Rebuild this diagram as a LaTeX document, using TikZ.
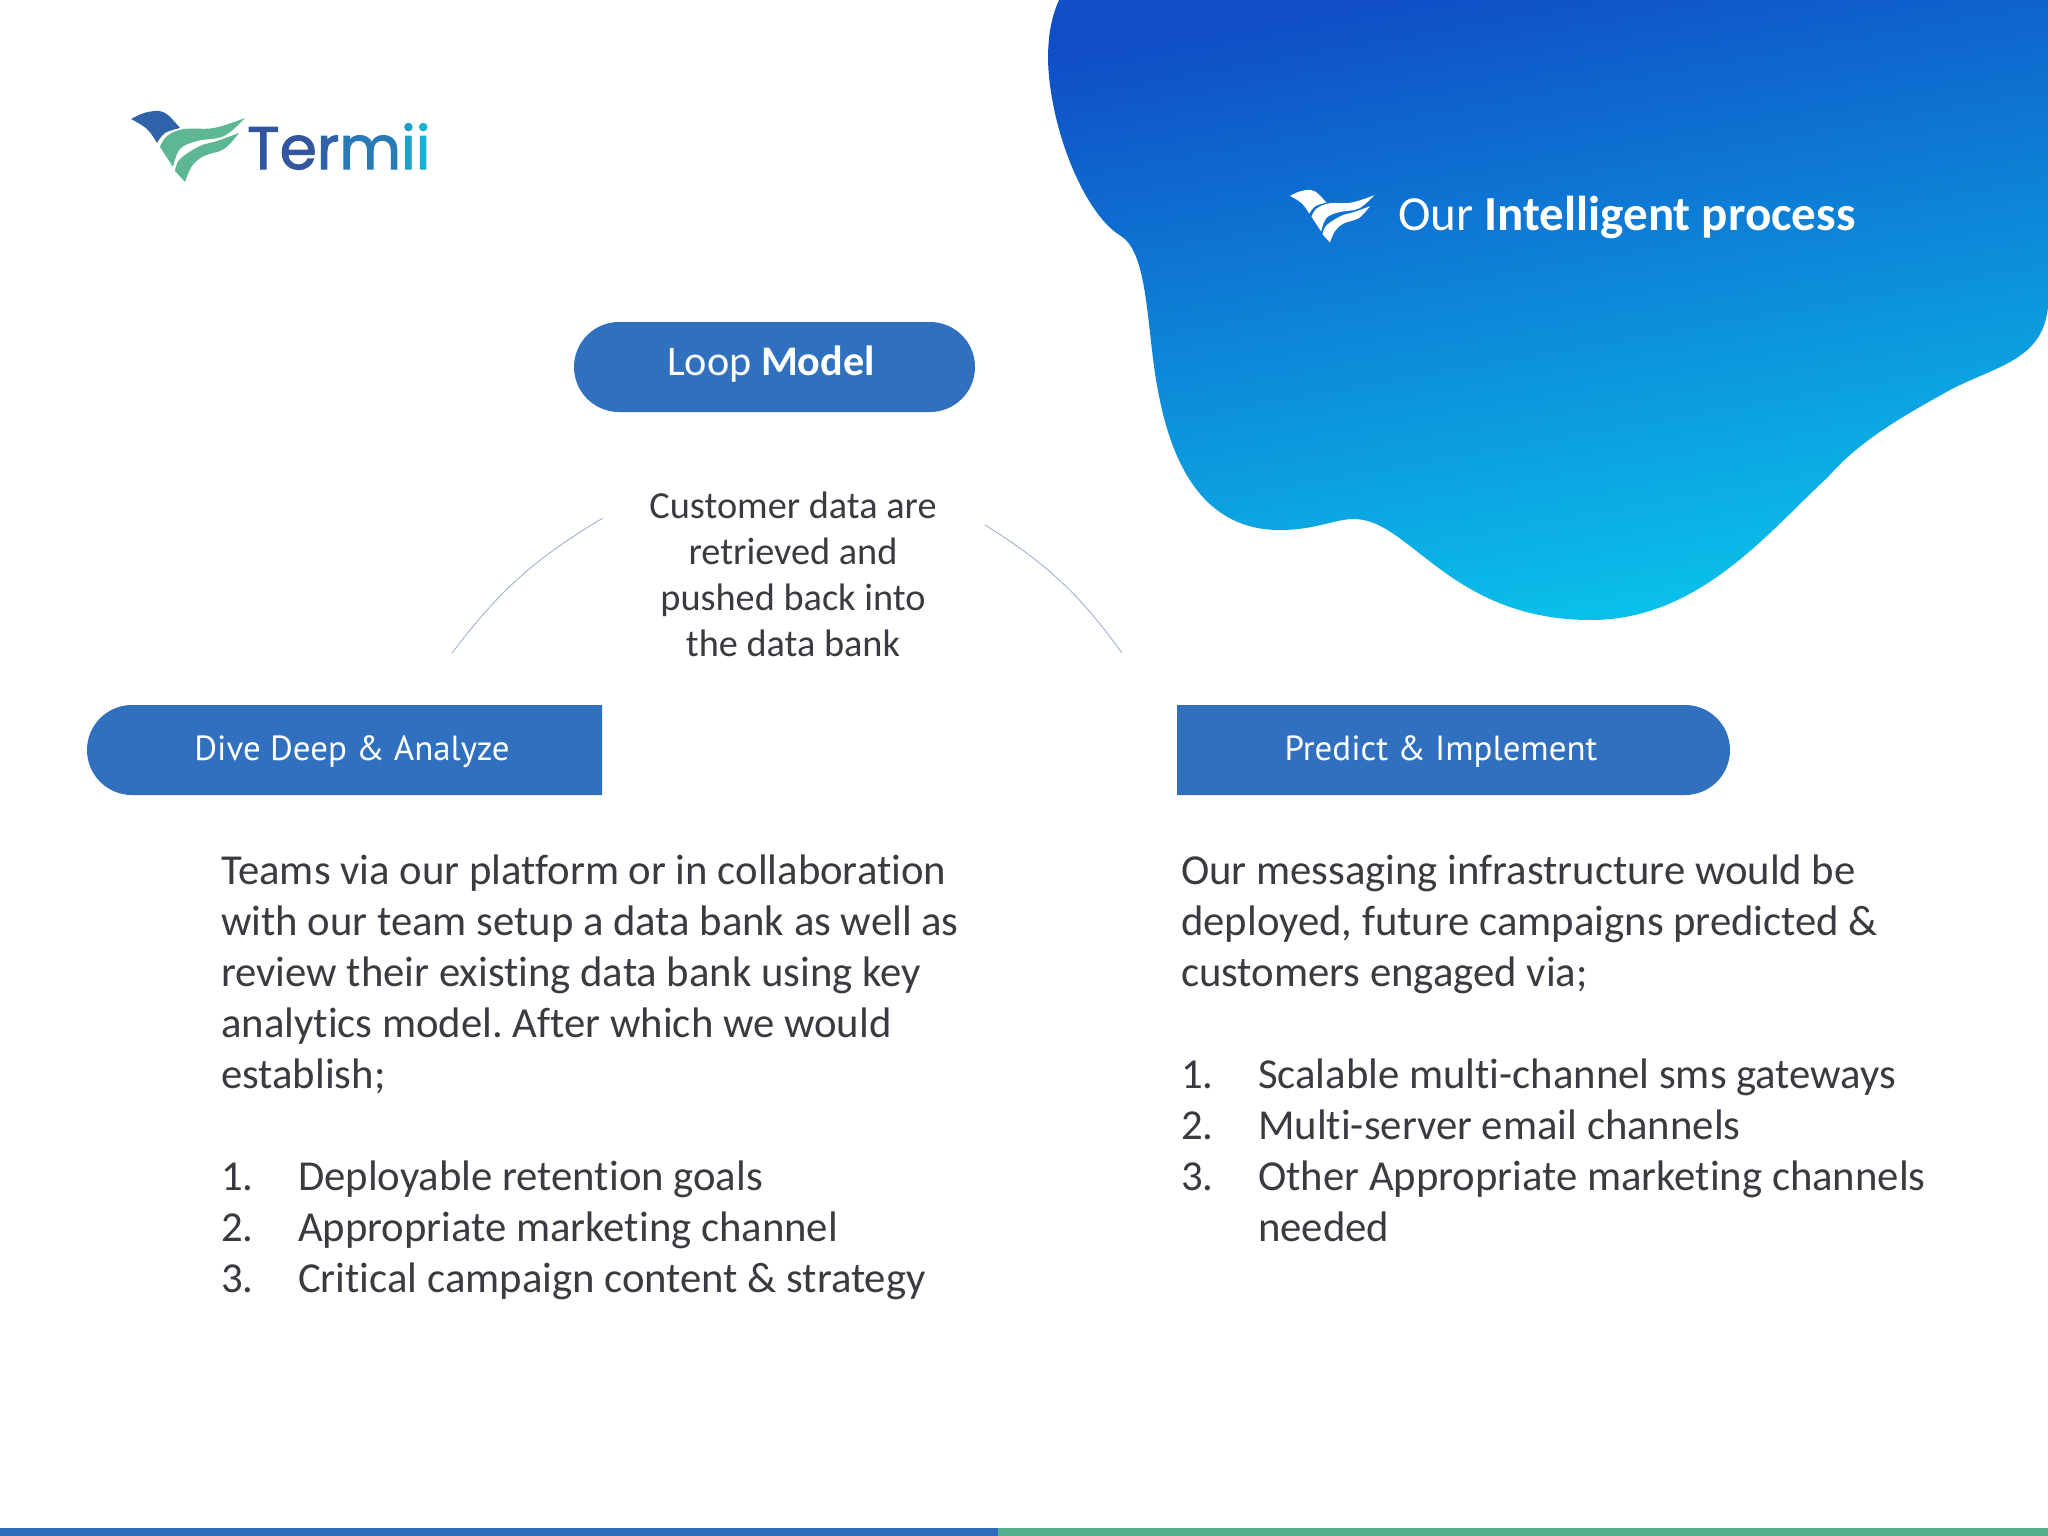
\documentclass[tikz,border=0pt]{standalone}
\usepackage{fontspec}
\setmainfont{Carlito}[RawFeature=-liga]
\newfontfamily\logofont[FakeBold=1.8]{Poppins}
\newfontfamily\btnfont{PT Sans}
\definecolor{btn}{HTML}{3070BF}
\definecolor{ink}{HTML}{3A3A40}
\definecolor{arcline}{HTML}{9AABD0}
\definecolor{birdblue}{HTML}{2F62A8}
\definecolor{birdgreen}{HTML}{5DB792}
\definecolor{barblue}{HTML}{2F6BBB}
\definecolor{bargreen}{HTML}{55AE8C}
\newcommand{\birdshape}[2]{%
  \fill[#1] plot[smooth,tension=.6] coordinates{(0,8)(13,2)(28,0)(38,5)(49,17)}
     -- plot[smooth,tension=.6] coordinates{(49,17)(34,22)(26,32)}
     -- plot[smooth,tension=.6] coordinates{(26,32)(16,18)(0,8)} -- cycle;
  \fill[#2] plot[smooth,tension=.6] coordinates{(29,36)(36,25)(53,18)(83,17)(114,7)}
     -- plot[smooth,tension=.6] coordinates{(114,7)(93,25)(66,30)(49,38)(42,56)} -- cycle;
  \fill[#2] plot[smooth,tension=.6] coordinates{(44,60)(49,48)(69,35)(86,30)(108,22)}
     -- plot[smooth,tension=.6] coordinates{(108,22)(93,38)(73,45)(61,55)(54,71)} -- cycle;
}
\tikzset{
  btnlabel/.style={text=white,inner sep=0pt,font=\btnfont\fontsize{34.9}{40}\selectfont},
  bodytext/.style={text=ink,inner sep=0pt,anchor=north west,align=left,font=\frenchspacing\fontsize{42.7}{51}\selectfont},
  midtext/.style={text=ink,inner sep=0pt,align=center,font=\fontsize{38.3}{46}\selectfont},
  loopline/.style={draw=arcline,line width=.8pt},
}
\begin{document}
\begin{tikzpicture}[x=1pt,y=-1pt]
\useasboundingbox (0,0) rectangle (2048,1536);
\fill[white] (0,0) rectangle (2048,1536);
% blob
\begin{scope}
\clip (0,0) rectangle (2048,1536);
\shade[top color={rgb,255:red,16;green,78;blue,198},middle color={rgb,255:red,12;green,132;blue,216},bottom color={rgb,255:red,10;green,196;blue,236},shading angle=10]
  (1059,0) .. controls (1050,20) and (1048,40) .. (1048,60)
  .. controls (1050,130) and (1085,215) .. (1121,236)
  .. controls (1143,250) and (1146,300) .. (1152,350)
  .. controls (1162,440) and (1190,530) .. (1280,530)
  .. controls (1315,530) and (1335,519) .. (1354,519)
  .. controls (1410,519) and (1450,620) .. (1591,620)
  .. controls (1700,620) and (1770,530) .. (1828,477)
  .. controls (1860,440) and (1905,415) .. (1950,390)
  .. controls (1995,366) and (2048,360) .. (2048,300)
  -- (2048,0) -- cycle;
\end{scope}
% logo
\begin{scope}[shift={(131,111)}]
\birdshape{birdblue}{birdgreen}
\end{scope}
\node (logotext) [anchor=base west,inner sep=0pt,font=\logofont\fontsize{60}{66}\selectfont] at (247,169)
 {\textcolor[HTML]{33549F}{T}\textcolor[HTML]{33569F}{e}\textcolor[HTML]{2F62A8}{r}\textcolor[HTML]{2A7BB5}{m}\textcolor[HTML]{1C9FC8}{i}\textcolor[HTML]{18B0D6}{i}};
% white bird and title
\begin{scope}[shift={(1290,190)},scale=.74]
\birdshape{white}{white}
\end{scope}
\node (title) [anchor=west,text=white,inner sep=0pt,font=\fontsize{49}{54}\selectfont] at (1398,217) {Our \textbf{Intelligent process}};
% buttons
\fill[btn,rounded corners=45pt] (574,322) rectangle (975,412);
\node (loop) [text=white,inner sep=0pt,font=\fontsize{42.2}{48}\selectfont] at (771,364) {Loop \textbf{Model}};
\fill[btn] (602,705) -- (132,705) arc[start angle=270,end angle=90,radius=45] -- (602,795) -- cycle;
\node (dive) [btnlabel] at (352,752) {Dive Deep \& Analyze};
\fill[btn] (1177,705) -- (1685,705) arc[start angle=-90,end angle=90,radius=45] -- (1177,795) -- cycle;
\node (predict) [btnlabel] at (1441,752) {Predict \& Implement};
% middle text
\node (mid) [midtext] at (793,574) {Customer data are\\retrieved and\\pushed back into\\the data bank};
% arcs
\coordinate (al1) at (452,653);
\coordinate (al2) at (603,518);
\coordinate (ar1) at (985,525);
\coordinate (ar2) at (1122,653);
\draw[loopline] (al1) to[bend left=11] (al2);
\draw[loopline] (ar1) to[bend left=11] (ar2);
% body
\node (leftbody) [bodytext] at (221,855) {Teams via our platform or in collaboration\\with our team setup a data bank as well as\\review their existing data bank using key\\analytics model. After which we would\\establish;\\[51pt]\makebox[77pt][l]{1.}Deployable retention goals\\\makebox[77pt][l]{2.}Appropriate marketing channel\\\makebox[77pt][l]{3.}Critical campaign content \& strategy};
\node (rightbody) [bodytext] at (1181,855) {Our messaging infrastructure would be\\deployed, future campaigns predicted \&\\customers engaged via;\\[51pt]\makebox[77pt][l]{1.}Scalable multi-channel sms gateways\\\makebox[77pt][l]{2.}Multi-server email channels\\\makebox[77pt][l]{3.}Other Appropriate marketing channels\\\makebox[77pt][l]{}needed};
% bottom bar
\fill[barblue] (0,1528) rectangle (998,1536);
\fill[bargreen] (998,1528) rectangle (2048,1536);
\end{tikzpicture}
\end{document}
